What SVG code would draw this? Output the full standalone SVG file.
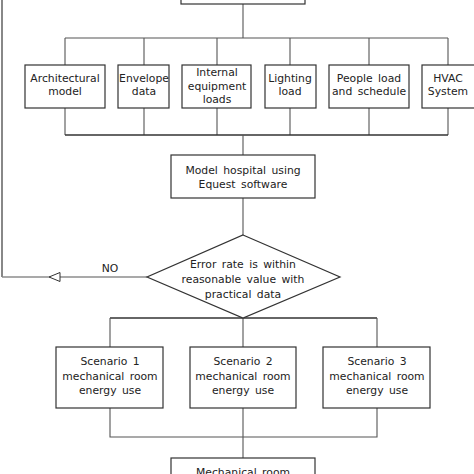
<svg xmlns="http://www.w3.org/2000/svg" width="474" height="474" viewBox="0 0 474 474">
<defs>
<style>
.box{fill:#fff;stroke:#333;stroke-width:1.2}
.ln{fill:none;stroke:#555;stroke-width:1.1}
.bus{fill:none;stroke:#333;stroke-width:1.6}
.arr{fill:#fff;stroke:#333;stroke-width:1}
text{font-family:"DejaVu Sans","Liberation Sans",sans-serif;font-size:10.8px;fill:#222;text-anchor:middle;word-spacing:2px}
</style>
</defs>
<rect width="474" height="474" fill="#fff"/>
<g id="connectors">
<path class="ln" d="M243,4 V38"/>
<path class="ln" d="M65,38 H448 M65,38 V65 M144,38 V65 M217,38 V65 M290,38 V65 M369,38 V65 M448,38 V65"/>
<path class="ln" d="M65,108 V135 M144,108 V135 M217,108 V135 M290,108 V135 M369,108 V135 M448,108 V135"/>
<path class="bus" d="M65,135 H448"/>
<path class="ln" d="M243,135 V155"/>
<path class="ln" d="M243,198 V235"/>
<path class="ln" d="M147,277 H2"/>
<polygon class="arr" points="49,277 60,272.5 60,281.5"/>
<path fill="none" stroke="#888" stroke-width="2" d="M2,0 V277"/>
<path class="bus" d="M110,318 H377"/>
<path class="ln" d="M110,318 V347 M243,318 V347 M377,318 V347"/>
<path class="ln" d="M110,408 V437 H377 V408 M243,408 V458"/>
<text x="110" y="272">NO</text>
</g>
<g id="start"><rect class="box" x="181" y="-20" width="124" height="24"/></g>
<g id="arch"><rect class="box" x="25" y="65" width="80" height="43"/><text x="65" y="82">Architectural</text><text x="65" y="95">model</text></g>
<g id="envelope"><rect class="box" x="118" y="65" width="51" height="43"/><text x="144" y="82">Envelope</text><text x="144" y="95">data</text></g>
<g id="internal"><rect class="box" x="182" y="65" width="69" height="43"/><text x="217" y="76">Internal</text><text x="217" y="90">equipment</text><text x="217" y="103">loads</text></g>
<g id="lighting"><rect class="box" x="265" y="65" width="51" height="43"/><text x="290" y="82">Lighting</text><text x="290" y="95">load</text></g>
<g id="people"><rect class="box" x="329" y="65" width="80" height="43"/><text x="369" y="82">People load</text><text x="369" y="95">and schedule</text></g>
<g id="hvac"><rect class="box" x="422" y="65" width="54" height="43"/><text x="448" y="82">HVAC</text><text x="448" y="95">System</text></g>
<g id="model"><rect class="box" x="171" y="155" width="144" height="43"/><text x="243" y="174">Model hospital using</text><text x="243" y="188">Equest software</text></g>
<g id="decision"><path class="box" d="M243,235 L340,277 L243,318 L147,277 Z"/><text x="243" y="268">Error rate is within</text><text x="243" y="283">reasonable value with</text><text x="243" y="298">practical data</text></g>
<g id="s1"><rect class="box" x="56" y="347" width="107" height="61"/><text x="110" y="365">Scenario 1</text><text x="110" y="380">mechanical room</text><text x="110" y="394">energy use</text></g>
<g id="s2"><rect class="box" x="190" y="347" width="106" height="61"/><text x="243" y="365">Scenario 2</text><text x="243" y="380">mechanical room</text><text x="243" y="394">energy use</text></g>
<g id="s3"><rect class="box" x="323" y="347" width="107" height="61"/><text x="377" y="365">Scenario 3</text><text x="377" y="380">mechanical room</text><text x="377" y="394">energy use</text></g>
<g id="final"><rect class="box" x="171" y="458" width="144" height="40"/><text x="243" y="476">Mechanical room</text></g>
</svg>
